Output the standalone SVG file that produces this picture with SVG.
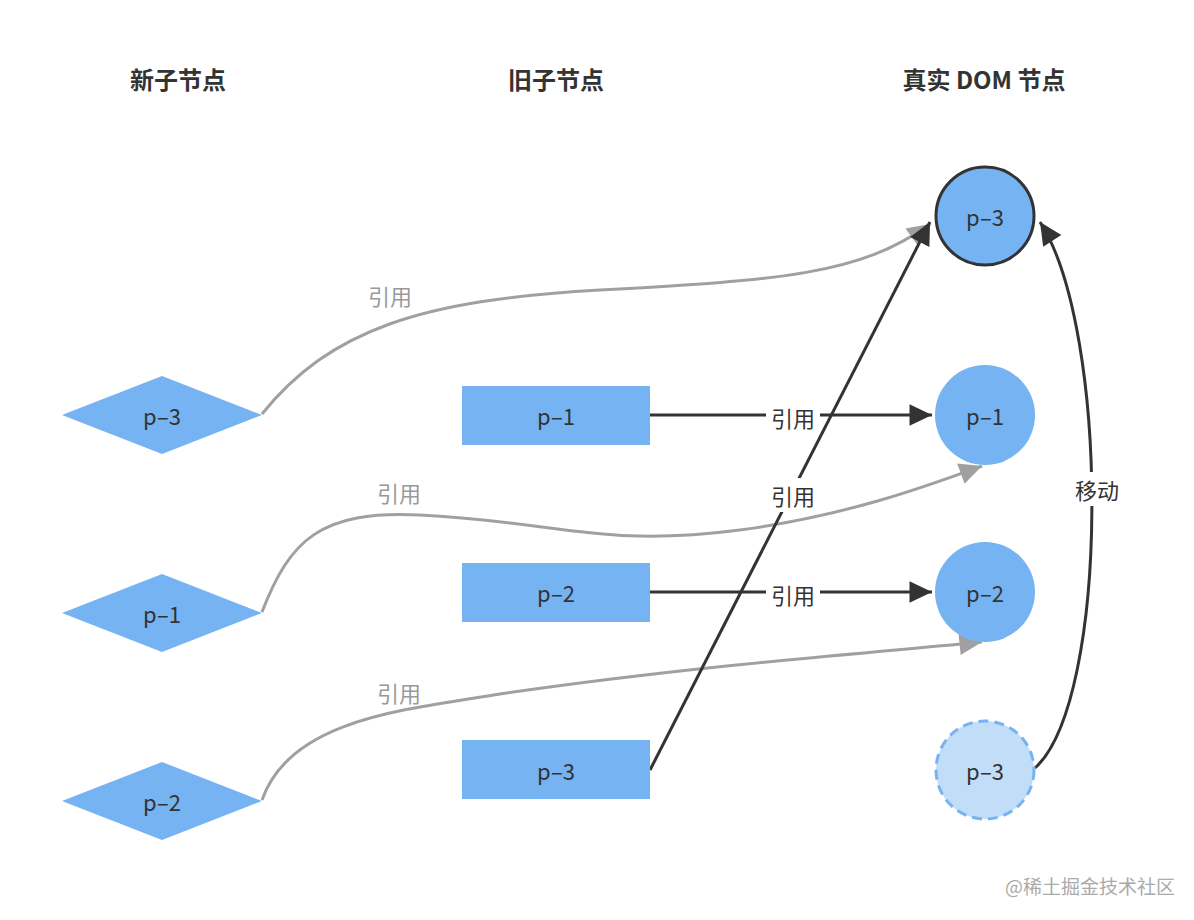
<svg xmlns="http://www.w3.org/2000/svg" width="1194" height="920" viewBox="0 0 1194 920">
<style>
text{font-family:"PingFang SC","Noto Sans CJK SC","Liberation Sans",sans-serif;text-anchor:middle;dominant-baseline:central}
.h{font-size:24px;font-weight:bold;fill:#333}
.n{font-size:22px;fill:#333}
.lg{font-size:22px;fill:#999}
.ld{font-size:22px;fill:#333}
.shape{fill:#76b3f2}
.g{fill:none;stroke:#a0a0a0;stroke-width:3}
.d{fill:none;stroke:#333;stroke-width:3}
</style>
<defs>
<marker id="ag" viewBox="0 0 10 10" refX="9" refY="5" markerWidth="9" markerHeight="9" markerUnits="userSpaceOnUse" orient="auto" overflow="visible"><path d="M-16,-7 L9,5 L-16,17 Z" transform="scale(1)" fill="#a0a0a0"/></marker>
<marker id="ad" viewBox="0 0 10 10" refX="9" refY="5" markerWidth="9" markerHeight="9" markerUnits="userSpaceOnUse" orient="auto" overflow="visible"><path d="M-16,-7 L9,5 L-16,17 Z" fill="#333"/></marker>
</defs>
<rect width="1194" height="920" fill="#fff"/>
<text class="h" x="178" y="78">新子节点</text>
<text class="h" x="556" y="78">旧子节点</text>
<text class="h" x="984" y="78">真实 DOM 节点</text>
<g id="connectors">
<path class="g" d="M262,414 C330,330 420,300 600,290 C780,280 860,275 930,224" marker-end="url(#ag)"/>
<path class="g" d="M262,612 C290,540 320,510 420,515 C560,522 600,548 740,530 C850,515 930,485 982,466" marker-end="url(#ag)"/>
<path class="g" d="M262,800 C290,720 400,710 500,694 C700,665 880,652 982,642" marker-end="url(#ag)"/>
<path class="d" d="M650,770 L930,222" marker-end="url(#ad)"/>
<path class="d" d="M650,415 L932,415" marker-end="url(#ad)"/>
<path class="d" d="M650,592 L932,592" marker-end="url(#ad)"/>
<path class="d" d="M1035,768 C1110,700 1110,330 1040,222" marker-end="url(#ad)"/>
<rect x="372" y="278" width="38" height="34" fill="#fff" opacity="0"/>
<text class="lg" x="390" y="295">引用</text>
<text class="lg" x="399" y="492">引用</text>
<text class="lg" x="399" y="692">引用</text>
<rect x="766" y="400" width="54" height="34" fill="#fff"/>
<text class="ld" x="793" y="417">引用</text>
<rect x="766" y="478" width="54" height="34" fill="#fff"/>
<text class="ld" x="793" y="495">引用</text>
<rect x="766" y="577" width="54" height="34" fill="#fff"/>
<text class="ld" x="793" y="594">引用</text>
<rect x="1068" y="472" width="58" height="34" fill="#fff"/>
<text class="ld" x="1097" y="489">移动</text>
</g>
<g id="new-p3"><polygon class="shape" points="62,415 162,376 262,415 162,454"/><text class="n" x="162" y="415">p–3</text></g>
<g id="new-p1"><polygon class="shape" points="62,613 162,574 262,613 162,652"/><text class="n" x="162" y="613">p–1</text></g>
<g id="new-p2"><polygon class="shape" points="62,801 162,762 262,801 162,840"/><text class="n" x="162" y="801">p–2</text></g>
<g id="old-p1"><rect class="shape" x="462" y="386" width="188" height="59"/><text class="n" x="556" y="415">p–1</text></g>
<g id="old-p2"><rect class="shape" x="462" y="563" width="188" height="59"/><text class="n" x="556" y="592">p–2</text></g>
<g id="old-p3"><rect class="shape" x="462" y="740" width="188" height="59"/><text class="n" x="556" y="770">p–3</text></g>
<g id="dom-p3"><circle class="shape" cx="985" cy="216" r="49" stroke="#333" stroke-width="3"/><text class="n" x="985" y="216">p–3</text></g>
<g id="dom-p1"><circle class="shape" cx="985" cy="415" r="50"/><text class="n" x="985" y="415">p–1</text></g>
<g id="dom-p2"><circle class="shape" cx="985" cy="592" r="50"/><text class="n" x="985" y="592">p–2</text></g>
<g id="dom-p3-old"><circle cx="985" cy="770" r="49" fill="#c2ddf8" stroke="#76b3f2" stroke-width="3" stroke-dasharray="10,6"/><text class="n" x="985" y="770">p–3</text></g>
<text x="1090" y="885" style="font-size:19px;fill:#aaa">@稀土掘金技术社区</text>
</svg>
